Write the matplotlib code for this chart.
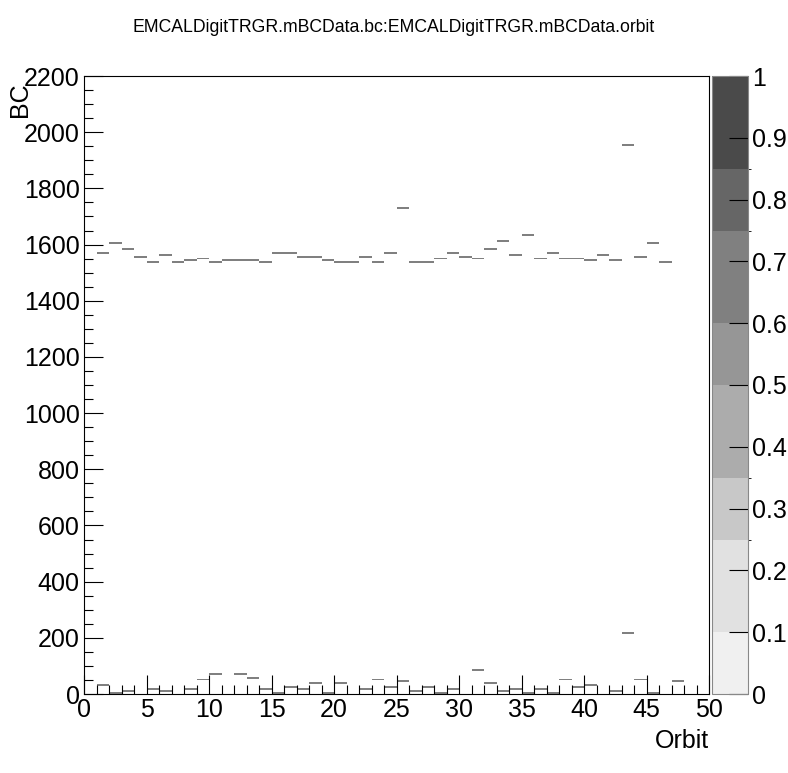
import numpy as np
import matplotlib
matplotlib.use("Agg")
import matplotlib.pyplot as plt
from matplotlib.colors import ListedColormap, BoundaryNorm
from matplotlib.ticker import MultipleLocator

plt.rcParams['font.family'] = ['Liberation Sans', 'DejaVu Sans']

# --- data (orbit bin, BC) --- #

orbit_hi = [1, 2, 3, 4, 5, 6, 7, 8, 9, 10, 11, 12, 13, 14, 15, 16, 17, 18, 19, 20,
            21, 22, 23, 24, 25, 26, 27, 28, 29, 30, 31, 32, 33, 34, 35, 36, 37, 38,
            39, 40, 41, 42, 43, 44, 45, 46]
bc_hi = [1572, 1603, 1587, 1555, 1538, 1564, 1537, 1541, 1547, 1539, 1540, 1545, 1540,
         1537, 1569, 1573, 1559, 1559, 1542, 1539, 1537, 1555, 1537, 1572, 1731, 1538,
         1538, 1553, 1571, 1555, 1553, 1585, 1615, 1563, 1630, 1549, 1569, 1549, 1549,
         1545, 1566, 1544, 1957, 1559, 1607, 1539]

orbit_lo = [1, 2, 3, 5, 6, 8, 9, 10, 12, 13, 14, 15, 16, 17, 18, 19, 20, 22, 23, 24,
            25, 26, 27, 28, 29, 31, 32, 33, 34, 35, 36, 37, 38, 39, 40, 42, 43, 44, 45, 47]
bc_lo = [28, 6, 8, 14, 11, 20, 50, 74, 74, 58, 20, 5, 23, 20, 40, 6, 38, 17, 50, 24,
         47, 11, 24, 2, 19, 84, 38, 11, 18, 3, 20, 5, 50, 26, 31, 7, 214, 50, 5, 46]

z_levels = [0.0, 0.1, 0.25, 0.35, 0.5, 0.6, 0.75, 0.85, 1.0]
z_grays = ['#f0f0f0', '#e1e1e1', '#c8c8c8', '#acacac', '#969696', '#808080',
           '#666666', '#4a4a4a']
cbar_ticks = [0, 0.1, 0.2, 0.3, 0.4, 0.5, 0.6, 0.7, 0.8, 0.9, 1.0]

title = "EMCALDigitTRGR.mBCData.bc:EMCALDigitTRGR.mBCData.orbit"


def main():

    orbit = np.array(orbit_hi + orbit_lo) + 0.5
    bc = np.array(bc_hi + bc_lo)

    x_edges = np.arange(0, 51, 1)
    y_edges = np.linspace(0, 2200, 321)
    h, _, _ = np.histogram2d(orbit, bc, bins=(x_edges, y_edges))
    h = np.ma.masked_equal(h.T, 0)

    cmap = ListedColormap(z_grays)
    norm = BoundaryNorm(z_levels, cmap.N)

    fig = plt.figure(figsize=(7.88, 7.73), dpi=100)
    ax = fig.add_axes([84 / 788, 79 / 773, 625 / 788, 618 / 773])
    cax = fig.add_axes([712 / 788, 79 / 773, 36 / 788, 618 / 773])

    mesh = ax.pcolormesh(x_edges, y_edges, h, cmap=cmap, norm=norm, alpha=0.7,
                         shading="flat")

    ax.set_xlim(0, 50)
    ax.set_ylim(0, 2200)
    ax.xaxis.set_major_locator(MultipleLocator(5))
    ax.xaxis.set_minor_locator(MultipleLocator(1))
    ax.yaxis.set_major_locator(MultipleLocator(200))
    ax.yaxis.set_minor_locator(MultipleLocator(50))
    ax.tick_params(which="both", direction="in", width=0.8, color="black",
                   labelsize=18, top=False, right=False)
    ax.tick_params(which="major", length=13.5)
    ax.tick_params(which="minor", length=6.8)
    ax.tick_params(axis="x", pad=3)
    ax.tick_params(axis="y", pad=3)
    for s in ax.spines.values():
        s.set_linewidth(0.8)

    ax.set_xlabel("Orbit", fontsize=18, loc="right", labelpad=5)
    ax.set_ylabel("BC", fontsize=18, loc="top")
    ax.yaxis.set_label_coords(-0.083, 0.99)

    cb = fig.colorbar(mesh, cax=cax, spacing="proportional", ticks=cbar_ticks)
    cb.solids.set_alpha(1)
    cb.outline.set_edgecolor("#888888")
    cb.outline.set_linewidth(0.8)
    cax.yaxis.set_ticks_position("right")
    cax.tick_params(direction="in", length=13.5, width=0.8, labelsize=18, pad=3,
                    color="black")
    cax.set_yticklabels(["{:g}".format(t) for t in cbar_ticks])

    fig.text(0.5, 1 - 27 / 773, title, ha="center", va="center", fontsize=12.7)

    fig.savefig("out.png", dpi=100, facecolor="white")


if __name__ == "__main__":
    main()
